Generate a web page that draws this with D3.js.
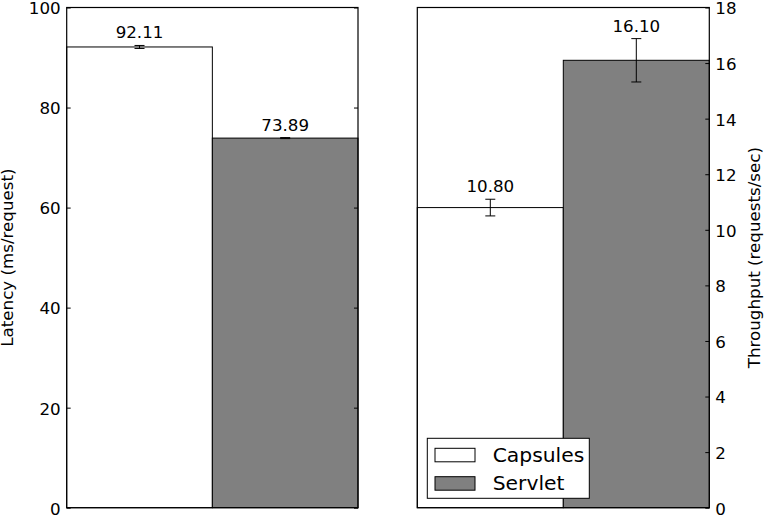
<!DOCTYPE html>
<html>
<head>
<meta charset="utf-8">
<script src="https://cdn.jsdelivr.net/npm/d3@7"></script>
<style>
  body { margin: 0; background: #fff; }
  text { font-family: "DejaVu Sans", sans-serif; }
</style>
</head>
<body>
<svg id="chart"></svg>
<script>
const systems = ["Capsules", "Servlet"];
const fills = ["#ffffff", "#808080"];

const latency = [92.11, 73.89];
const latencyErr = [0.3, 0.1];
const latencyTicks = [0, 20, 40, 60, 80, 100];

const throughput = [10.80, 16.10];
const throughputErr = [0.3, 0.78];
const throughputTicks = [0, 2, 4, 6, 8, 10, 12, 14, 16, 18];

const W = 766, H = 519, FS = 16.7;
const yTop = 7.5, yBot = 507.7;

const svg = d3.select("#chart").attr("width", W).attr("height", H);

// draw one panel of bars with error bars and value labels
function panel(x0, x1, vals, errs, maxY, ticks, side) {
  const g = svg.append("g");
  const x = d3.scaleBand().domain(systems).range([x0, x1]).padding(0);
  const y = d3.scaleLinear().domain([0, maxY]).range([yBot, yTop]);
  const data = systems.map((s, i) => ({ s, v: vals[i], e: errs[i], f: fills[i] }));

  g.selectAll("rect.bar").data(data).enter().append("rect")
    .attr("class", "bar")
    .attr("x", d => x(d.s)).attr("width", x.bandwidth())
    .attr("y", d => y(d.v)).attr("height", d => y(0) - y(d.v))
    .attr("fill", d => d.f).attr("stroke", "#000").attr("stroke-width", 1);

  // error bars
  const eb = g.selectAll("g.err").data(data).enter().append("g")
    .attr("stroke", "#000").attr("stroke-width", 1);
  const cx = d => x(d.s) + x.bandwidth() / 2;
  eb.append("line").attr("x1", cx).attr("x2", cx)
    .attr("y1", d => y(d.v - d.e)).attr("y2", d => y(d.v + d.e));
  eb.append("line").attr("x1", d => cx(d) - 5).attr("x2", d => cx(d) + 5)
    .attr("y1", d => y(d.v - d.e)).attr("y2", d => y(d.v - d.e));
  eb.append("line").attr("x1", d => cx(d) - 5).attr("x2", d => cx(d) + 5)
    .attr("y1", d => y(d.v + d.e)).attr("y2", d => y(d.v + d.e));

  g.selectAll("text.val").data(data).enter().append("text")
    .attr("class", "val")
    .attr("x", cx).attr("y", d => y(d.v + d.e) - 7)
    .attr("text-anchor", "middle").attr("font-size", FS)
    .text(d => d.v.toFixed(2));

  // frame
  g.append("rect").attr("x", x0).attr("y", yTop)
    .attr("width", x1 - x0).attr("height", yBot - yTop)
    .attr("fill", "none").attr("stroke", "#000").attr("stroke-width", 1.2);

  // axes: inward ticks
  const fmt = d3.format("d");
  if (side === "left") {
    const ax = g.append("g").attr("transform", `translate(${x0},0)`)
      .call(d3.axisLeft(y).tickValues(ticks).tickSize(-4).tickPadding(6).tickFormat(fmt));
    ax.select(".domain").remove();
    ax.selectAll("text").attr("font-size", FS).attr("fill", "#000")
      .attr("font-family", "DejaVu Sans").attr("dy", "0.38em");
    const ax2 = g.append("g").attr("transform", `translate(${x1},0)`)
      .call(d3.axisRight(y).tickValues(ticks).tickSize(-4).tickFormat(""));
    ax2.select(".domain").remove();
  } else {
    const ax = g.append("g").attr("transform", `translate(${x1},0)`)
      .call(d3.axisRight(y).tickValues(ticks).tickSize(-4).tickPadding(6).tickFormat(fmt));
    ax.select(".domain").remove();
    ax.selectAll("text").attr("font-size", FS).attr("fill", "#000")
      .attr("font-family", "DejaVu Sans").attr("dy", "0.38em");
  }
  return g;
}

panel(66.7, 358, latency, latencyErr, 100, latencyTicks, "left");
panel(417.3, 709.3, throughput, throughputErr, 18, throughputTicks, "right");

const midY = (yTop + yBot) / 2;
svg.append("text")
  .attr("transform", `translate(13,${midY}) rotate(-90)`)
  .attr("text-anchor", "middle").attr("font-size", FS)
  .text("Latency (ms/request)");
svg.append("text")
  .attr("transform", `translate(760,${midY}) rotate(-90)`)
  .attr("text-anchor", "middle").attr("font-size", FS)
  .text("Throughput (requests/sec)");

// legend
const leg = svg.append("g");
leg.append("rect").attr("x", 427.3).attr("y", 438.3).attr("width", 162).attr("height", 60)
  .attr("fill", "#fff").attr("stroke", "#000").attr("stroke-width", 1);
const items = leg.selectAll("g.item").data(systems).enter().append("g")
  .attr("transform", (d, i) => `translate(0,${448.3 + i * 28.4})`);
items.append("rect").attr("x", 435).attr("y", 0).attr("width", 40).attr("height", 13.5)
  .attr("fill", (d, i) => fills[i]).attr("stroke", "#000").attr("stroke-width", 1);
items.append("text").attr("x", 492.7).attr("y", 13.4).attr("font-size", 20.3).text(d => d);
</script>
</body>
</html>
